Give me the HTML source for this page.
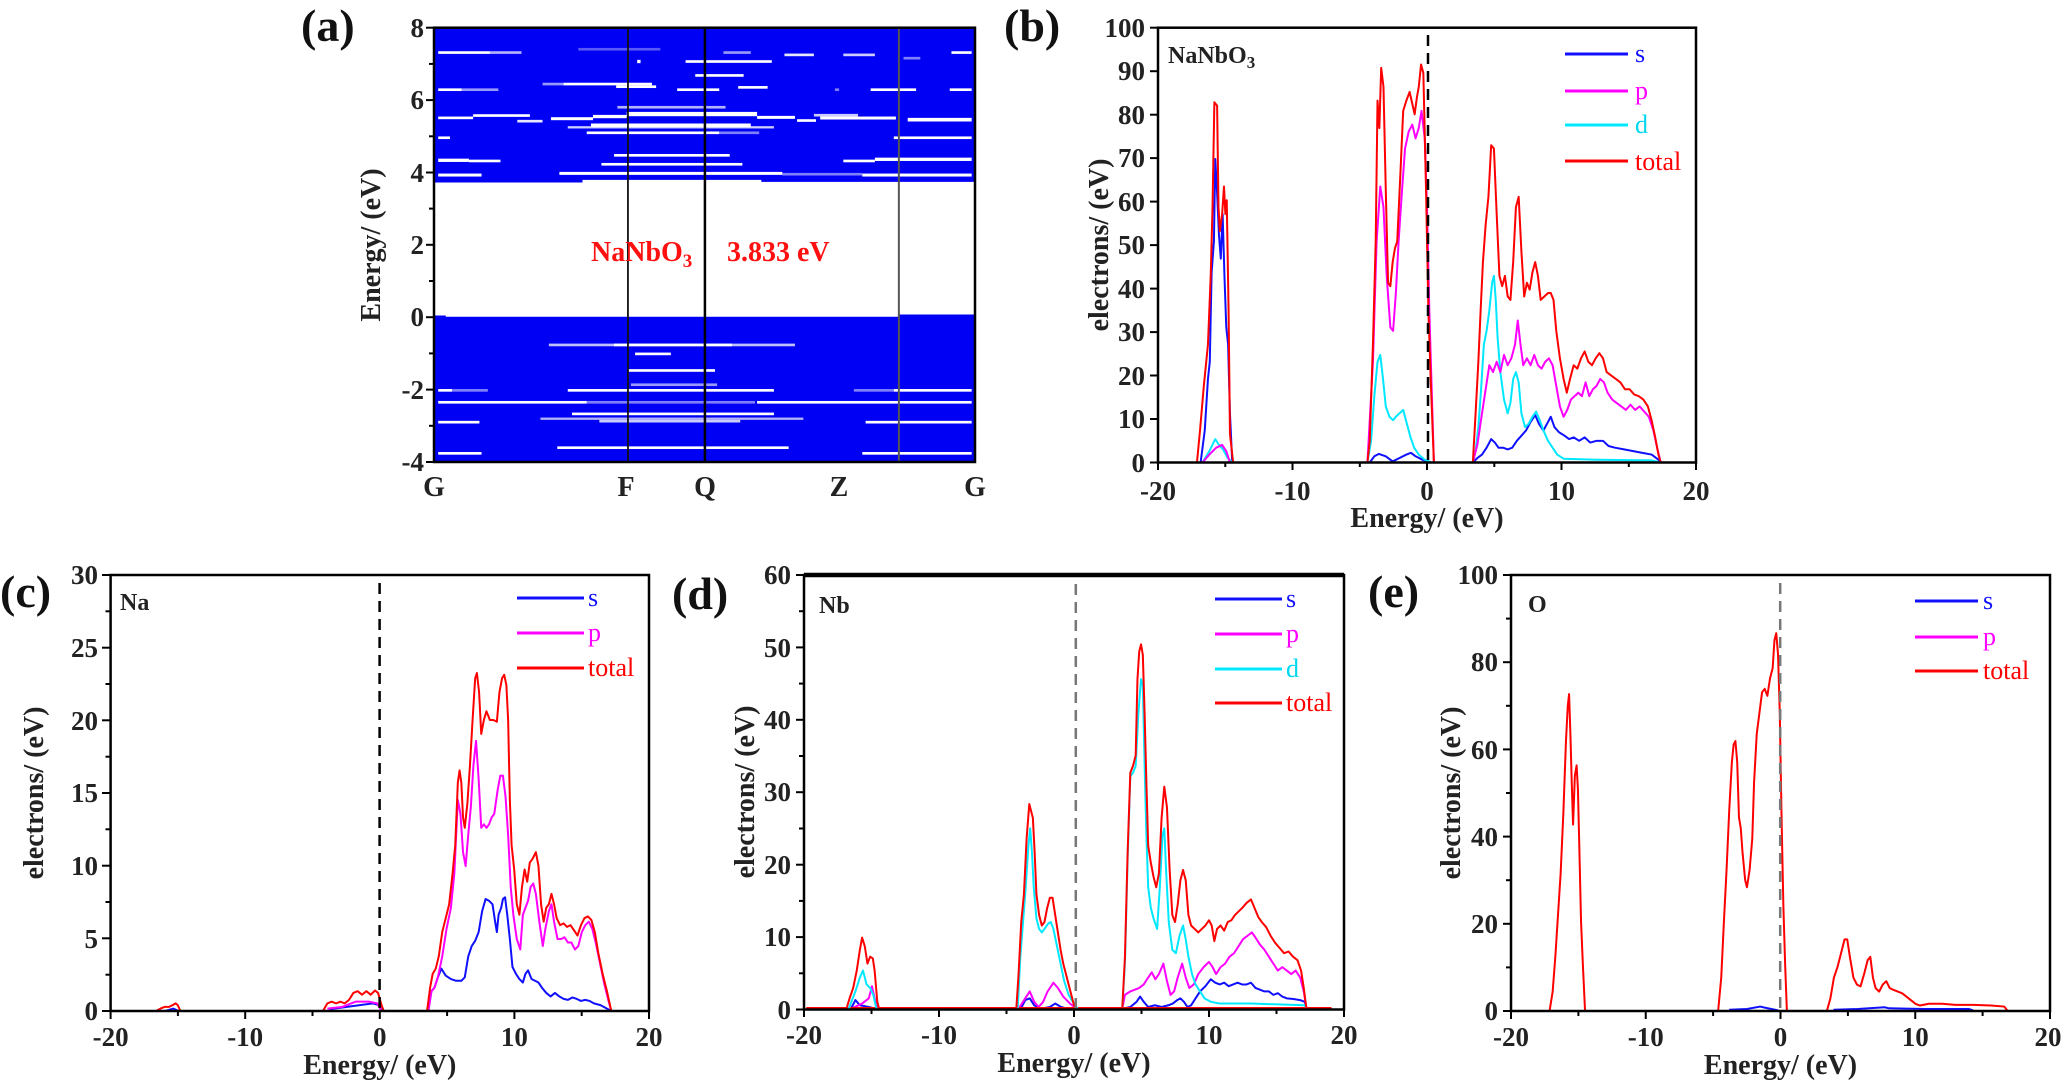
<!DOCTYPE html>
<html><head><meta charset="utf-8"><style>
html,body{margin:0;padding:0;background:#fff;}
svg{display:block;font-family:"Liberation Serif","Times New Roman",serif;}
.tk{font-size:27px;font-weight:bold;fill:#222;}
.tt{font-size:28px;font-weight:bold;fill:#222;}
.lg{font-size:26px;}
.pl{font-size:46px;font-weight:bold;fill:#111;}
.el{font-size:24px;font-weight:bold;fill:#222;}
.d{fill:none;stroke-width:2;vector-effect:non-scaling-stroke;stroke-linejoin:round;}
.s{stroke:#1010ff}.p{stroke:#ff00ff}.c{stroke:#00e8ff}.r{stroke:#ff0000}
</style></head><body>
<svg width="2066" height="1084" viewBox="0 0 2066 1084" xmlns="http://www.w3.org/2000/svg">
<rect width="2066" height="1084" fill="#fff"/>

<!-- ============ PANEL A ============ -->
<g transform="translate(340.6,1.84) scale(0.4207,0.3315)">
<rect x="222" y="78" width="1286" height="1310" fill="#0000f5"/>
<polygon points="222,545 575,545 575,537 1000,537 1000,543 1508,543 1508,943 1327,943 1327,950 250,950 250,946 222,946" fill="#fff"/>
<g fill="#fff">
<rect x="232" y="149" width="123" height="8"/><rect x="355" y="149" width="75" height="8" opacity="0.7"/>
<rect x="565" y="139" width="195" height="8" opacity="0.35"/>
<rect x="910" y="149" width="65" height="8" opacity="0.6"/>
<rect x="1055" y="156" width="70" height="8" opacity="0.9"/>
<rect x="1195" y="156" width="75" height="8" opacity="0.8"/>
<rect x="1338" y="166" width="40" height="8" opacity="0.5"/>
<rect x="1452" y="149" width="48" height="8"/>
<rect x="705" y="175" width="8" height="10"/>
<rect x="820" y="176" width="205" height="8"/>
<rect x="843" y="218" width="115" height="8"/>
<rect x="480" y="244" width="50" height="8" opacity="0.6"/><rect x="530" y="244" width="210" height="8"/>
<rect x="655" y="252" width="95" height="8"/>
<rect x="232" y="261" width="56" height="8"/><rect x="288" y="261" width="87" height="8" opacity="0.6"/>
<rect x="800" y="261" width="100" height="8"/>
<rect x="945" y="254" width="70" height="8"/>
<rect x="1175" y="261" width="10" height="8" opacity="0.5"/>
<rect x="1260" y="261" width="108" height="8"/>
<rect x="1448" y="261" width="52" height="8"/>
<rect x="658" y="314" width="257" height="8" opacity="0.7"/>
<rect x="232" y="346" width="83" height="8"/>
<rect x="315" y="339" width="135" height="8"/>
<rect x="420" y="356" width="60" height="8" opacity="0.9"/>
<rect x="500" y="348" width="100" height="9"/>
<rect x="600" y="341" width="80" height="10"/>
<rect x="680" y="332" width="310" height="13"/>
<rect x="990" y="344" width="90" height="9"/>
<rect x="1085" y="354" width="45" height="8"/>
<rect x="1125" y="338" width="105" height="8" opacity="0.8"/>
<rect x="1140" y="346" width="180" height="9"/>
<rect x="1348" y="350" width="152" height="11"/>
<rect x="595" y="367" width="380" height="11"/>
<rect x="540" y="375" width="490" height="7" opacity="0.8"/>
<rect x="585" y="391" width="315" height="8"/><rect x="900" y="391" width="95" height="8" opacity="0.5"/>
<rect x="232" y="406" width="28" height="8"/>
<rect x="1315" y="406" width="185" height="8"/>
<rect x="650" y="459" width="275" height="8"/>
<rect x="232" y="473" width="73" height="10"/><rect x="305" y="476" width="75" height="8"/>
<rect x="1195" y="476" width="75" height="8"/><rect x="1270" y="470" width="230" height="10"/>
<rect x="620" y="486" width="335" height="8"/>
<rect x="520" y="513" width="530" height="9"/><rect x="1050" y="516" width="190" height="8" opacity="0.5"/>
<rect x="232" y="518" width="103" height="9"/>
<rect x="1240" y="518" width="260" height="9"/>
<!-- valence -->
<rect x="495" y="1031" width="585" height="8" opacity="0.75"/><rect x="650" y="1031" width="280" height="8"/>
<rect x="700" y="1058" width="85" height="8"/>
<rect x="685" y="1108" width="205" height="8"/>
<rect x="690" y="1151" width="205" height="8" opacity="0.6"/>
<rect x="232" y="1168" width="33" height="8"/><rect x="265" y="1168" width="85" height="8" opacity="0.5"/>
<rect x="540" y="1168" width="490" height="8"/>
<rect x="1220" y="1168" width="95" height="8" opacity="0.5"/><rect x="1315" y="1168" width="185" height="8"/>
<rect x="232" y="1204" width="353" height="8"/><rect x="585" y="1204" width="400" height="8" opacity="0.5"/><rect x="990" y="1204" width="510" height="8"/>
<rect x="550" y="1239" width="480" height="8"/>
<rect x="475" y="1254" width="625" height="7" opacity="0.7"/>
<rect x="615" y="1261" width="335" height="8" opacity="0.8"/>
<rect x="232" y="1264" width="98" height="8"/>
<rect x="1248" y="1264" width="252" height="8"/>
<rect x="515" y="1341" width="550" height="8"/>
<rect x="232" y="1358" width="103" height="8"/>
<rect x="1240" y="1358" width="260" height="8"/>
</g>
<line x1="683" y1="78" x2="683" y2="1388" stroke="#111" stroke-width="1.8" vector-effect="non-scaling-stroke"/>
<line x1="866" y1="78" x2="866" y2="1388" stroke="#000" stroke-width="2.5" vector-effect="non-scaling-stroke"/>
<line x1="1327" y1="78" x2="1327" y2="1388" stroke="#555" stroke-width="2" vector-effect="non-scaling-stroke"/>
</g>
<rect x="434" y="27.7" width="541" height="434.3" fill="none" stroke="#000" stroke-width="2.5"/>
<g stroke="#000" stroke-width="2">
<line x1="426" y1="27.7" x2="434" y2="27.7"/><line x1="429" y1="63.9" x2="434" y2="63.9"/>
<line x1="426" y1="100.1" x2="434" y2="100.1"/><line x1="429" y1="136.3" x2="434" y2="136.3"/>
<line x1="426" y1="172.5" x2="434" y2="172.5"/><line x1="429" y1="208.6" x2="434" y2="208.6"/>
<line x1="426" y1="244.8" x2="434" y2="244.8"/><line x1="429" y1="281" x2="434" y2="281"/>
<line x1="426" y1="317.2" x2="434" y2="317.2"/><line x1="429" y1="353.4" x2="434" y2="353.4"/>
<line x1="426" y1="389.6" x2="434" y2="389.6"/><line x1="429" y1="425.8" x2="434" y2="425.8"/>
<line x1="426" y1="462" x2="434" y2="462"/>
</g>
<g class="tk" text-anchor="end">
<text x="424" y="37">8</text><text x="424" y="109">6</text><text x="424" y="182">4</text>
<text x="424" y="254">2</text><text x="424" y="326">0</text><text x="424" y="399">-2</text><text x="424" y="471">-4</text>
</g>
<g class="tt" text-anchor="middle">
<text x="434" y="496">G</text><text x="626" y="496">F</text><text x="705" y="496">Q</text><text x="839" y="496">Z</text><text x="975" y="496">G</text>
</g>
<text class="tt" text-anchor="middle" transform="translate(370,245) rotate(-90)" dy="10">Energy/ (eV)</text>
<text x="591" y="261" font-size="28" font-weight="bold" fill="#ff1010">NaNbO<tspan font-size="19" dy="6">3</tspan></text>
<text x="727" y="261" font-size="28" font-weight="bold" fill="#ff1010">3.833 eV</text>
<text class="pl" x="301" y="41">(a)</text>

<!-- ============ PANEL B ============ -->
<g transform="translate(1000.8,0.89) scale(0.4583,0.3437)">
<polyline class="d s" points="436,1343 445,1250 452,1100 456,1050 460,790 465,700 468,460 472,560 476,680 480,750 484,620 488,800 492,950 496,1000 500,1200 505,1343"/>
<polyline class="d s" points="805,1343 815,1325 825,1318 840,1325 855,1340 870,1330 885,1320 895,1315 905,1325 920,1335 935,1343"/>
<polyline class="d s" points="1030,1343 1040,1330 1050,1320 1060,1300 1070,1275 1078,1285 1086,1300 1096,1300 1106,1305 1116,1300 1126,1280 1136,1265 1146,1250 1156,1225 1166,1205 1174,1230 1184,1250 1194,1225 1200,1210 1208,1240 1218,1255 1230,1265 1240,1275 1250,1270 1262,1280 1274,1270 1286,1285 1300,1280 1314,1280 1326,1295 1340,1300 1360,1305 1380,1310 1400,1315 1420,1320 1435,1335 1440,1343"/>
<polyline class="d c" points="440,1343 455,1310 468,1275 475,1290 485,1305 495,1330 505,1343"/>
<polyline class="d c" points="800,1343 808,1280 815,1150 822,1050 828,1030 834,1100 840,1180 848,1210 856,1220 862,1210 870,1200 878,1190 886,1230 894,1270 902,1300 912,1320 925,1335 940,1343"/>
<polyline class="d c" points="1030,1343 1036,1310 1042,1240 1048,1130 1054,1000 1060,960 1066,900 1072,820 1076,800 1080,870 1084,980 1090,1080 1098,1160 1106,1200 1112,1170 1118,1100 1124,1080 1130,1110 1136,1200 1144,1240 1152,1230 1160,1210 1168,1195 1176,1220 1184,1250 1194,1280 1204,1300 1214,1320 1228,1332 1300,1335 1420,1337 1440,1343"/>
<polyline class="d p" points="440,1343 455,1320 470,1300 483,1292 492,1310 500,1343"/>
<polyline class="d p" points="800,1343 812,1050 820,700 828,540 835,600 842,800 850,950 856,960 862,850 868,700 875,560 882,430 890,380 898,360 905,400 912,370 918,320 925,400 930,600 935,900 945,1343"/>
<polyline class="d p" points="1030,1343 1040,1290 1050,1200 1058,1130 1066,1060 1074,1080 1082,1050 1090,1080 1098,1030 1106,1060 1114,1040 1122,1000 1128,930 1134,1000 1140,1060 1148,1040 1156,1060 1164,1030 1172,1060 1180,1070 1188,1050 1196,1040 1204,1060 1212,1120 1220,1180 1228,1210 1236,1190 1244,1160 1252,1150 1260,1140 1268,1150 1276,1110 1284,1150 1292,1130 1300,1120 1308,1100 1316,1110 1324,1140 1334,1160 1344,1170 1354,1180 1364,1190 1374,1175 1384,1190 1394,1180 1404,1195 1414,1210 1424,1250 1432,1300 1440,1343"/>
<polyline class="d r" points="428,1343 435,1245 443,1120 452,1000 458,800 462,600 466,295 472,305 475,600 478,670 483,620 487,540 490,620 493,580 497,900 500,1260 507,1343"/>
<polyline class="d r" points="800,1343 805,1280 812,1000 818,700 822,290 826,370 830,195 835,250 840,550 845,820 850,830 855,760 860,720 865,700 872,500 878,320 885,290 892,265 898,300 903,330 908,280 912,250 917,185 922,210 928,560 933,900 938,1100 945,1343"/>
<polyline class="d r" points="1030,1343 1036,1200 1042,1050 1047,900 1052,760 1058,650 1064,570 1070,420 1076,430 1082,620 1088,800 1094,830 1100,800 1106,860 1112,870 1118,760 1124,600 1130,570 1136,730 1142,860 1148,820 1154,840 1160,790 1166,760 1172,800 1178,870 1186,860 1194,850 1200,850 1206,870 1212,960 1220,1040 1228,1100 1235,1140 1242,1100 1250,1060 1258,1070 1266,1040 1274,1020 1282,1050 1290,1060 1298,1040 1306,1025 1314,1040 1322,1080 1332,1090 1342,1100 1352,1110 1362,1130 1372,1130 1382,1145 1392,1150 1402,1160 1412,1180 1420,1220 1428,1270 1435,1320 1440,1343"/>
</g>
<line x1="1428" y1="35" x2="1428" y2="462" stroke="#000" stroke-width="2.5" stroke-dasharray="11,7"/>
<rect x="1158" y="27.7" width="538" height="434.8" fill="none" stroke="#000" stroke-width="2.5"/>
<g stroke="#000" stroke-width="2">
<line x1="1158" y1="462.5" x2="1158" y2="470"/><line x1="1292.5" y1="462.5" x2="1292.5" y2="470"/><line x1="1427" y1="462.5" x2="1427" y2="470"/><line x1="1561.5" y1="462.5" x2="1561.5" y2="470"/><line x1="1696" y1="462.5" x2="1696" y2="470"/>
<line x1="1225.3" y1="462.5" x2="1225.3" y2="467"/><line x1="1359.8" y1="462.5" x2="1359.8" y2="467"/><line x1="1494.3" y1="462.5" x2="1494.3" y2="467"/><line x1="1628.8" y1="462.5" x2="1628.8" y2="467"/>
<line x1="1150" y1="462.5" x2="1158" y2="462.5"/><line x1="1150" y1="419" x2="1158" y2="419"/><line x1="1150" y1="375.5" x2="1158" y2="375.5"/><line x1="1150" y1="332.1" x2="1158" y2="332.1"/><line x1="1150" y1="288.6" x2="1158" y2="288.6"/><line x1="1150" y1="245.1" x2="1158" y2="245.1"/><line x1="1150" y1="201.6" x2="1158" y2="201.6"/><line x1="1150" y1="158.1" x2="1158" y2="158.1"/><line x1="1150" y1="114.7" x2="1158" y2="114.7"/><line x1="1150" y1="71.2" x2="1158" y2="71.2"/><line x1="1150" y1="27.7" x2="1158" y2="27.7"/>
</g>
<g class="tk" text-anchor="end">
<text x="1145" y="472">0</text><text x="1145" y="428">10</text><text x="1145" y="385">20</text><text x="1145" y="341">30</text><text x="1145" y="298">40</text><text x="1145" y="254">50</text><text x="1145" y="211">60</text><text x="1145" y="167">70</text><text x="1145" y="124">80</text><text x="1145" y="80">90</text><text x="1145" y="37">100</text>
</g>
<g class="tk" text-anchor="middle">
<text x="1158" y="500">-20</text><text x="1292.5" y="500">-10</text><text x="1427" y="500">0</text><text x="1561.5" y="500">10</text><text x="1696" y="500">20</text>
</g>
<text class="tt" x="1427" y="527" text-anchor="middle">Energy/ (eV)</text>
<text class="tt" text-anchor="middle" transform="translate(1098,245) rotate(-90)" dy="10">electrons/ (eV)</text>
<text class="el" x="1168" y="63">NaNbO<tspan font-size="17" dy="5">3</tspan></text>
<g stroke-width="3">
<line x1="1565" y1="54" x2="1628" y2="54" stroke="#1010ff"/><line x1="1565" y1="91" x2="1628" y2="91" stroke="#ff00ff"/>
<line x1="1565" y1="125" x2="1628" y2="125" stroke="#00e8ff"/><line x1="1565" y1="161" x2="1628" y2="161" stroke="#ff0000"/>
</g>
<g class="lg"><text x="1635" y="62" fill="#1010ff">s</text><text x="1635" y="99" fill="#ff00ff">p</text><text x="1635" y="133" fill="#00d8f0">d</text><text x="1635" y="170" fill="#ff0000">total</text></g>
<text class="pl" x="1004" y="41">(b)</text>

<!-- ============ PANEL C ============ -->
<g transform="translate(0.06,539.2) scale(0.4335,0.3477)">
<polyline class="d s" points="380,1357 400,1350 412,1357"/>
<polyline class="d s" points="760,1352 800,1345 830,1340 860,1335 875,1340 880,1357"/>
<polyline class="d s" points="988,1357 995,1300 1002,1290 1010,1260 1018,1235 1028,1255 1040,1265 1052,1270 1064,1270 1072,1260 1080,1200 1088,1170 1096,1155 1104,1130 1112,1070 1120,1035 1128,1040 1136,1050 1142,1100 1146,1130 1150,1080 1156,1060 1160,1035 1165,1030 1170,1080 1176,1150 1182,1230 1190,1250 1198,1265 1206,1275 1212,1250 1218,1240 1226,1265 1234,1270 1242,1275 1250,1290 1260,1305 1270,1315 1280,1305 1290,1315 1300,1322 1310,1325 1320,1318 1330,1322 1340,1328 1350,1325 1360,1328 1370,1335 1385,1340 1400,1350 1410,1357"/>
<polyline class="d p" points="755,1350 790,1345 820,1330 850,1330 870,1335 880,1357"/>
<polyline class="d p" points="988,1357 995,1300 1002,1290 1010,1260 1020,1200 1030,1120 1040,1060 1048,960 1056,750 1062,790 1068,900 1074,940 1080,850 1086,770 1092,650 1098,580 1104,690 1110,830 1116,820 1122,830 1128,820 1134,800 1140,790 1148,720 1154,680 1160,680 1166,740 1172,850 1178,1000 1184,1080 1192,1150 1200,1180 1206,1080 1212,1060 1218,1040 1224,1000 1230,990 1236,1020 1244,1100 1252,1170 1258,1120 1266,1070 1272,1050 1278,1100 1286,1150 1294,1150 1302,1145 1310,1160 1318,1160 1326,1180 1334,1170 1342,1130 1350,1110 1358,1100 1366,1120 1374,1160 1384,1220 1394,1280 1404,1330 1410,1357"/>
<polyline class="d r" points="360,1357 370,1350 380,1345 390,1345 398,1340 405,1335 410,1340 416,1357"/>
<polyline class="d r" points="745,1357 755,1335 765,1330 775,1335 785,1330 795,1335 805,1325 815,1305 825,1300 835,1310 845,1300 855,1310 865,1298 872,1305 880,1340 885,1357"/>
<polyline class="d r" points="985,1357 992,1290 998,1250 1005,1235 1012,1200 1020,1130 1028,1090 1036,1050 1044,960 1050,880 1056,700 1060,665 1064,700 1068,800 1072,830 1078,760 1084,650 1090,520 1096,400 1100,385 1105,440 1110,560 1116,520 1122,495 1130,520 1138,520 1146,525 1152,440 1158,400 1163,390 1168,420 1172,520 1176,750 1180,880 1186,950 1192,1050 1198,1080 1204,1000 1210,950 1216,985 1222,930 1228,920 1236,900 1242,940 1248,1050 1254,1100 1260,1060 1266,1050 1272,1020 1278,1050 1284,1090 1292,1110 1300,1105 1308,1115 1316,1110 1324,1125 1332,1140 1340,1110 1348,1090 1356,1085 1364,1095 1372,1130 1380,1190 1390,1250 1400,1300 1410,1357"/>
</g>
<line x1="379.6" y1="583" x2="379.6" y2="1011" stroke="#000" stroke-width="2.5" stroke-dasharray="11,7"/>
<rect x="110.6" y="575" width="538.4" height="436" fill="none" stroke="#000" stroke-width="2.5"/>
<g stroke="#000" stroke-width="2">
<line x1="110.6" y1="1011" x2="110.6" y2="1019"/><line x1="245.2" y1="1011" x2="245.2" y2="1019"/><line x1="379.8" y1="1011" x2="379.8" y2="1019"/><line x1="514.4" y1="1011" x2="514.4" y2="1019"/><line x1="649" y1="1011" x2="649" y2="1019"/>
<line x1="177.9" y1="1011" x2="177.9" y2="1016"/><line x1="312.5" y1="1011" x2="312.5" y2="1016"/><line x1="447.1" y1="1011" x2="447.1" y2="1016"/><line x1="581.7" y1="1011" x2="581.7" y2="1016"/>
<line x1="102" y1="1011" x2="110.6" y2="1011"/><line x1="102" y1="938.3" x2="110.6" y2="938.3"/><line x1="102" y1="865.7" x2="110.6" y2="865.7"/><line x1="102" y1="793" x2="110.6" y2="793"/><line x1="102" y1="720.3" x2="110.6" y2="720.3"/><line x1="102" y1="647.7" x2="110.6" y2="647.7"/><line x1="102" y1="575" x2="110.6" y2="575"/>
<line x1="105.5" y1="974.7" x2="110.6" y2="974.7"/><line x1="105.5" y1="902" x2="110.6" y2="902"/><line x1="105.5" y1="829.3" x2="110.6" y2="829.3"/><line x1="105.5" y1="756.7" x2="110.6" y2="756.7"/><line x1="105.5" y1="684" x2="110.6" y2="684"/><line x1="105.5" y1="611.3" x2="110.6" y2="611.3"/>
</g>
<g class="tk" text-anchor="end">
<text x="98" y="1020">0</text><text x="98" y="948">5</text><text x="98" y="875">10</text><text x="98" y="802">15</text><text x="98" y="730">20</text><text x="98" y="657">25</text><text x="98" y="584">30</text>
</g>
<g class="tk" text-anchor="middle">
<text x="110.6" y="1046">-20</text><text x="245.2" y="1046">-10</text><text x="379.8" y="1046">0</text><text x="514.4" y="1046">10</text><text x="649" y="1046">20</text>
</g>
<text class="tt" x="379.8" y="1074" text-anchor="middle">Energy/ (eV)</text>
<text class="tt" text-anchor="middle" transform="translate(33,793) rotate(-90)" dy="10">electrons/ (eV)</text>
<text class="el" x="120" y="610">Na</text>
<g stroke-width="3">
<line x1="517" y1="598" x2="584" y2="598" stroke="#1010ff"/><line x1="517" y1="633" x2="584" y2="633" stroke="#ff00ff"/><line x1="517" y1="668" x2="584" y2="668" stroke="#ff0000"/>
</g>
<g class="lg"><text x="588" y="606" fill="#1010ff">s</text><text x="588" y="641" fill="#ff00ff">p</text><text x="588" y="676" fill="#ff0000">total</text></g>
<text class="pl" x="0" y="607">(c)</text>

<!-- ============ PANEL D ============ -->
<g transform="translate(669.9,540.3) scale(0.447,0.347)">
<polyline class="d s" points="405,1350 415,1325 425,1340 445,1345 460,1350"/>
<polyline class="d s" points="785,1350 795,1325 805,1320 815,1340 830,1350 850,1345 862,1335 875,1345 890,1350"/>
<polyline class="d s" points="1012,1350 1030,1345 1044,1330 1052,1315 1060,1330 1070,1345 1085,1340 1100,1345 1115,1340 1125,1335 1135,1325 1142,1320 1150,1330 1158,1345 1166,1340 1176,1320 1186,1300 1198,1285 1210,1265 1220,1275 1230,1280 1240,1275 1250,1285 1260,1280 1270,1275 1280,1280 1290,1280 1300,1275 1310,1290 1320,1295 1330,1300 1340,1300 1350,1310 1360,1305 1370,1315 1380,1320 1395,1322 1410,1325 1420,1330 1425,1350"/>
<polyline class="d p" points="405,1350 430,1335 445,1320 452,1285 458,1320 465,1350"/>
<polyline class="d p" points="780,1350 795,1320 805,1300 815,1330 825,1345 835,1330 845,1300 858,1275 868,1290 880,1315 895,1335 910,1350"/>
<polyline class="d p" points="1012,1350 1018,1310 1030,1300 1040,1295 1050,1290 1060,1280 1070,1260 1078,1245 1086,1265 1094,1250 1104,1220 1112,1270 1120,1310 1128,1300 1136,1260 1146,1220 1154,1260 1162,1290 1172,1280 1182,1250 1194,1230 1206,1215 1214,1230 1222,1250 1232,1230 1242,1220 1252,1200 1262,1190 1272,1170 1282,1150 1292,1140 1302,1130 1310,1145 1320,1165 1330,1180 1340,1200 1350,1220 1360,1240 1370,1230 1380,1240 1390,1250 1400,1240 1410,1260 1418,1300 1424,1350"/>
<polyline class="d r" points="305,1348 1480,1348"/>
<polyline class="d c" points="400,1350 415,1300 425,1260 432,1240 440,1280 448,1290 455,1310 462,1350"/>
<polyline class="d c" points="778,1350 784,1200 790,1100 796,1000 802,880 806,830 810,900 814,1000 820,1090 826,1120 832,1130 838,1120 846,1105 852,1100 858,1120 866,1170 874,1220 882,1270 892,1310 904,1335 912,1350"/>
<polyline class="d c" points="1012,1350 1018,1220 1024,920 1030,680 1036,670 1042,650 1048,500 1054,400 1058,420 1062,650 1066,850 1070,1000 1076,1060 1082,1090 1090,1120 1096,1000 1102,850 1106,830 1110,950 1116,1100 1124,1180 1132,1190 1140,1140 1148,1110 1154,1150 1160,1200 1168,1250 1176,1280 1186,1300 1196,1320 1210,1330 1230,1335 1300,1335 1420,1340 1425,1350"/>
<polyline class="d r" points="395,1350 402,1320 410,1290 418,1240 425,1180 430,1145 436,1170 442,1220 448,1200 454,1205 458,1240 464,1330 468,1350"/>
<polyline class="d r" points="775,1350 780,1250 786,1100 792,1020 798,860 804,760 808,780 812,800 816,900 820,1020 826,1080 832,1110 838,1100 844,1060 850,1030 856,1030 862,1080 868,1130 874,1180 880,1220 888,1260 896,1300 904,1340 910,1350"/>
<polyline class="d r" points="1012,1350 1018,1200 1024,900 1030,670 1036,650 1042,620 1046,400 1050,320 1054,300 1058,330 1062,500 1066,700 1070,880 1076,930 1082,970 1088,1000 1094,960 1100,800 1106,710 1112,770 1118,950 1124,1080 1130,1100 1136,1050 1142,980 1148,950 1154,980 1160,1080 1166,1110 1174,1120 1182,1130 1190,1120 1198,1110 1206,1095 1212,1110 1218,1155 1224,1120 1232,1110 1240,1125 1248,1100 1256,1095 1264,1080 1272,1070 1280,1060 1290,1045 1300,1035 1308,1060 1316,1085 1324,1100 1334,1115 1344,1140 1354,1160 1364,1175 1374,1190 1384,1185 1394,1200 1404,1210 1412,1240 1418,1290 1424,1350"/>
</g>
<line x1="1075.8" y1="584" x2="1075.8" y2="1009.5" stroke="#777" stroke-width="2.5" stroke-dasharray="11,7"/>
<rect x="804" y="575" width="540" height="434.5" fill="none" stroke="#000" stroke-width="2.5"/>
<line x1="804" y1="575" x2="1344" y2="575" stroke="#000" stroke-width="4.5"/>
<g stroke="#000" stroke-width="2">
<line x1="804" y1="1009.5" x2="804" y2="1017"/><line x1="939" y1="1009.5" x2="939" y2="1017"/><line x1="1074" y1="1009.5" x2="1074" y2="1017"/><line x1="1209" y1="1009.5" x2="1209" y2="1017"/><line x1="1344" y1="1009.5" x2="1344" y2="1017"/>
<line x1="871.5" y1="1009.5" x2="871.5" y2="1014"/><line x1="1006.5" y1="1009.5" x2="1006.5" y2="1014"/><line x1="1141.5" y1="1009.5" x2="1141.5" y2="1014"/><line x1="1276.5" y1="1009.5" x2="1276.5" y2="1014"/>
<line x1="796" y1="1009.5" x2="804" y2="1009.5"/><line x1="796" y1="937.1" x2="804" y2="937.1"/><line x1="796" y1="864.7" x2="804" y2="864.7"/><line x1="796" y1="792.2" x2="804" y2="792.2"/><line x1="796" y1="719.8" x2="804" y2="719.8"/><line x1="796" y1="647.4" x2="804" y2="647.4"/><line x1="796" y1="575" x2="804" y2="575"/>
<line x1="799" y1="973.3" x2="804" y2="973.3"/><line x1="799" y1="900.9" x2="804" y2="900.9"/><line x1="799" y1="828.5" x2="804" y2="828.5"/><line x1="799" y1="756" x2="804" y2="756"/><line x1="799" y1="683.6" x2="804" y2="683.6"/><line x1="799" y1="611.2" x2="804" y2="611.2"/>
</g>
<g class="tk" text-anchor="end">
<text x="791" y="1019">0</text><text x="791" y="946">10</text><text x="791" y="874">20</text><text x="791" y="801">30</text><text x="791" y="729">40</text><text x="791" y="657">50</text><text x="791" y="584">60</text>
</g>
<g class="tk" text-anchor="middle">
<text x="804" y="1044">-20</text><text x="939" y="1044">-10</text><text x="1074" y="1044">0</text><text x="1209" y="1044">10</text><text x="1344" y="1044">20</text>
</g>
<text class="tt" x="1074" y="1072" text-anchor="middle">Energy/ (eV)</text>
<text class="tt" text-anchor="middle" transform="translate(744,792) rotate(-90)" dy="10">electrons/ (eV)</text>
<text class="el" x="819" y="613">Nb</text>
<g stroke-width="3">
<line x1="1215" y1="599" x2="1282" y2="599" stroke="#1010ff"/><line x1="1215" y1="634" x2="1282" y2="634" stroke="#ff00ff"/>
<line x1="1215" y1="669" x2="1282" y2="669" stroke="#00e8ff"/><line x1="1215" y1="703" x2="1282" y2="703" stroke="#ff0000"/>
</g>
<g class="lg"><text x="1286" y="607" fill="#1010ff">s</text><text x="1286" y="642" fill="#ff00ff">p</text><text x="1286" y="677" fill="#00d8f0">d</text><text x="1286" y="711" fill="#ff0000">total</text></g>
<text class="pl" x="672" y="609">(d)</text>

<!-- ============ PANEL E ============ -->
<g transform="translate(1369.9,539.2) scale(0.4436,0.348)">
<polyline class="d s" points="810,1352 850,1350 880,1343 890,1346 905,1350 920,1354"/>
<polyline class="d s" points="1045,1352 1100,1350 1160,1345 1170,1348 1250,1350 1350,1350 1360,1354"/>
<polyline class="d r" points="405,1356 412,1300 418,1200 424,1080 430,960 436,790 442,580 446,480 449,445 452,560 455,700 458,820 462,680 466,650 469,720 472,880 476,1100 480,1220 485,1356"/>
<polyline class="d r" points="785,1356 792,1260 798,1100 804,950 810,780 816,640 820,590 824,580 828,640 832,800 836,830 840,900 846,980 850,1000 856,950 862,860 866,700 872,560 878,500 884,440 890,430 896,450 902,400 908,370 912,290 916,270 920,330 924,500 928,800 932,1050 936,1220 940,1356"/>
<polyline class="d r" points="1030,1356 1038,1320 1046,1260 1054,1230 1062,1190 1070,1150 1076,1150 1082,1200 1090,1260 1098,1280 1106,1285 1114,1250 1122,1210 1128,1200 1134,1260 1140,1290 1148,1300 1156,1280 1164,1270 1172,1290 1180,1295 1190,1300 1200,1305 1210,1315 1220,1325 1230,1335 1240,1340 1260,1335 1290,1335 1320,1338 1360,1338 1400,1340 1430,1343 1438,1356"/>
</g>
<line x1="1780.2" y1="583" x2="1780.2" y2="1011" stroke="#777" stroke-width="2.5" stroke-dasharray="11,7"/>
<rect x="1511" y="575" width="539" height="436" fill="none" stroke="#000" stroke-width="2.5"/>
<g stroke="#000" stroke-width="2">
<line x1="1511" y1="1011" x2="1511" y2="1019"/><line x1="1645.75" y1="1011" x2="1645.75" y2="1019"/><line x1="1780.5" y1="1011" x2="1780.5" y2="1019"/><line x1="1915.25" y1="1011" x2="1915.25" y2="1019"/><line x1="2050" y1="1011" x2="2050" y2="1019"/>
<line x1="1578.4" y1="1011" x2="1578.4" y2="1016"/><line x1="1713.1" y1="1011" x2="1713.1" y2="1016"/><line x1="1847.9" y1="1011" x2="1847.9" y2="1016"/><line x1="1982.6" y1="1011" x2="1982.6" y2="1016"/>
<line x1="1503" y1="1011" x2="1511" y2="1011"/><line x1="1503" y1="923.8" x2="1511" y2="923.8"/><line x1="1503" y1="836.6" x2="1511" y2="836.6"/><line x1="1503" y1="749.4" x2="1511" y2="749.4"/><line x1="1503" y1="662.2" x2="1511" y2="662.2"/><line x1="1503" y1="575" x2="1511" y2="575"/>
<line x1="1506" y1="967.4" x2="1511" y2="967.4"/><line x1="1506" y1="880.2" x2="1511" y2="880.2"/><line x1="1506" y1="793" x2="1511" y2="793"/><line x1="1506" y1="705.8" x2="1511" y2="705.8"/><line x1="1506" y1="618.6" x2="1511" y2="618.6"/>
</g>
<g class="tk" text-anchor="end">
<text x="1498" y="1020">0</text><text x="1498" y="933">20</text><text x="1498" y="846">40</text><text x="1498" y="759">60</text><text x="1498" y="671">80</text><text x="1498" y="584">100</text>
</g>
<g class="tk" text-anchor="middle">
<text x="1511" y="1046">-20</text><text x="1645.75" y="1046">-10</text><text x="1780.5" y="1046">0</text><text x="1915.25" y="1046">10</text><text x="2048" y="1046">20</text>
</g>
<text class="tt" x="1780.5" y="1074" text-anchor="middle">Energy/ (eV)</text>
<text class="tt" text-anchor="middle" transform="translate(1450,793) rotate(-90)" dy="10">electrons/ (eV)</text>
<text class="el" x="1528" y="612">O</text>
<g stroke-width="3">
<line x1="1915" y1="601" x2="1978" y2="601" stroke="#1010ff"/><line x1="1915" y1="637" x2="1978" y2="637" stroke="#ff00ff"/><line x1="1915" y1="671" x2="1978" y2="671" stroke="#ff0000"/>
</g>
<g class="lg"><text x="1983" y="609" fill="#1010ff">s</text><text x="1983" y="645" fill="#ff00ff">p</text><text x="1983" y="679" fill="#ff0000">total</text></g>
<text class="pl" x="1368" y="607">(e)</text>
</svg>
</body></html>
